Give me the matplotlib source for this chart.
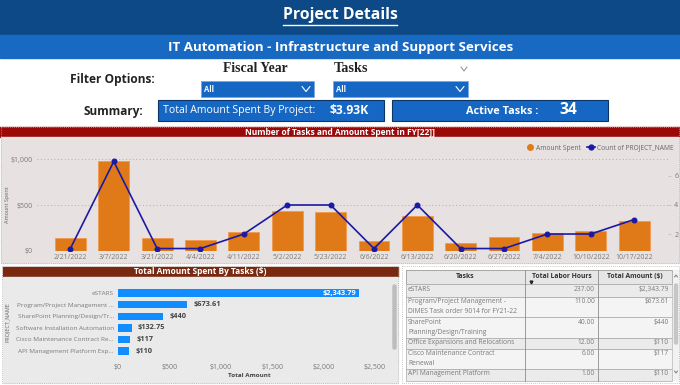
import matplotlib

matplotlib.use("Agg")

import matplotlib.pyplot as plt
from matplotlib.lines import Line2D
from matplotlib.patches import FancyBboxPatch, Rectangle

W, H = 680, 385

# combo chart: amount spent per week and number of tasks
week_labels = [
    "2/21/2022", "3/7/2022", "3/21/2022", "4/4/2022", "4/11/2022",
    "5/2/2022", "5/23/2022", "6/6/2022", "6/13/2022", "6/20/2022",
    "6/27/2022", "7/4/2022", "10/10/2022", "10/17/2022",
]
amount_spent = [140, 978, 140, 116, 210, 438, 427, 112, 384, 83, 149, 192, 217, 330]
task_counts = [1, 7, 1, 1, 2, 4, 4, 1, 4, 1, 1, 2, 2, 3]

# horizontal bar chart
task_names = [
    "eSTARS",
    "Program/Project Management ...",
    "SharePoint Planning/Design/Tr...",
    "Software Installation Automation",
    "Cisco Maintenance Contract Re...",
    "API Management Platform Exp...",
]
task_amounts = [2343.79, 673.61, 440, 132.75, 117, 110]
task_amount_labels = ["$2,343.79", "$673.61", "$440", "$132.75", "$117", "$110"]

# table
table_headers = ["Tasks", "Total Labor Hours", "Total Amount ($)"]
table_tasks = [
    "eSTARS",
    "Program/Project Management -\nDIMES Task order 9014 for FY21-22",
    "SharePoint\nPlanning/Design/Training",
    "Office Expansions and Relocations",
    "Cisco Maintenance Contract\nRenewal",
    "API Management Platform",
]
table_hours = [237.00, 110.00, 40.00, 12.00, 6.00, 1.00]
table_amounts = ["$2,343.79", "$673.61", "$440", "$110", "$117", "$110"]

total_spent_label = "$3.93K"
active_tasks = 34

DARK_BLUE = "#0D4986"
MID_BLUE = "#1769C2"
BOX_BLUE = "#1667C4"
RED = "#9A0808"
BROWN = "#78290F"
ORANGE = "#E07A18"
LINE_BLUE = "#1A1AA6"
BAR_BLUE = "#118DFF"
GREY_TXT = "#7A7A7A"

plt.rcParams["font.family"] = ["Open Sans", "DejaVu Sans"]

fig = plt.figure(figsize=(W / 100, H / 100), dpi=100)
renderer = fig.canvas.get_renderer()


def px_axes(x0, y0, x1, y1):
    return fig.add_axes([x0 / W, 1 - y1 / H, (x1 - x0) / W, (y1 - y0) / H])


def fit(t, width):
    bb = t.get_window_extent(renderer)
    t.set_fontsize(t.get_fontsize() * width / bb.width)
    return t


def chevron(ax, x, y, color="white", w=4, h=2.5):
    ax.plot([x - w, x, x + w], [y - h, y + h, y - h], color=color, lw=0.8,
            solid_capstyle="round", solid_joinstyle="round")


bg = fig.add_axes([0, 0, 1, 1])
bg.set_xlim(0, W)
bg.set_ylim(H, 0)
bg.axis("off")

# header bands
bg.add_patch(Rectangle((0, 0), W, 35, color=DARK_BLUE))
bg.add_patch(Rectangle((0, 35), W, 23, color=MID_BLUE))
title = bg.text(340, 15, "Project Details", color="white", fontsize=12,
                fontweight="bold", ha="center", va="center")
fit(title, 114)
tb = title.get_window_extent(renderer)
bg.plot([340 - tb.width / 2, 340 + tb.width / 2], [24.5, 24.5], color="white", lw=1)
sub = bg.text(341, 47, "IT Automation - Infrastructure and Support Services",
              color="white", fontsize=10, fontweight="bold", ha="center", va="center")
fit(sub, 346)

# filters
fit(bg.text(70, 80, "Filter Options:", fontsize=9, fontweight="bold",
            color="#222222", va="center"), 85)
fit(bg.text(255, 68, "Fiscal Year", family="Liberation Serif", fontsize=9,
            fontweight="bold", color="#222222", ha="center", va="center"), 64)
fit(bg.text(334, 68, "Tasks", family="Liberation Serif", fontsize=9,
            fontweight="bold", color="#222222", va="center"), 34)
chevron(bg, 464, 69, color="#999999", w=3, h=2)
for x0, x1 in [(201, 314), (333, 468)]:
    bg.add_patch(Rectangle((x0, 81), x1 - x0, 16, facecolor=BOX_BLUE,
                           edgecolor="#7FA9DB", lw=0.6))
    bg.text(x0 + 3, 90, "All", color="white", fontsize=5.5, fontweight="bold",
            va="center")
    chevron(bg, x1 - 8, 89)

# summary
fit(bg.text(83, 112, "Summary:", fontsize=9, fontweight="bold",
            color="#222222", va="center"), 60)
for x0, x1 in [(158, 384), (392, 608)]:
    bg.add_patch(Rectangle((x0, 100), x1 - x0, 21, facecolor=BOX_BLUE,
                           edgecolor="#0A3566", lw=0.8))
fit(bg.text(163, 111, "Total Amount Spent By Project:", fontsize=8,
            color="white", va="center"), 152)
fit(bg.text(330, 110, total_spent_label, fontsize=8, fontweight="bold",
            color="white", va="center"), 39)
fit(bg.text(466, 111, "Active Tasks :", fontsize=8, fontweight="bold",
            color="white", va="center"), 72)
fit(bg.text(559, 110, str(active_tasks), fontsize=9, fontweight="bold",
            color="white", va="center"), 18)

# combo chart panel
bg.add_patch(Rectangle((0, 127), W, 10, color=RED))
bg.text(340, 132, "Number of Tasks and Amount Spent in FY[22]]", color="white",
        fontsize=6, fontweight="bold", ha="center", va="center")
bg.add_patch(Rectangle((1, 137), W - 2, 126, color="#E8E1E1"))
bg.text(8, 205, "Amount Spent", rotation=90, fontsize=4, color="#666666",
        ha="center", va="center")

ax = px_axes(37, 150, 668, 251)
ax.set_facecolor("none")
x = list(range(len(week_labels)))
ax.bar(x, amount_spent, width=0.71, color=ORANGE, edgecolor="#F09A4E",
       linewidth=0.6, zorder=2)
ax.set_xlim(-0.77, 13.78)
ax.set_ylim(0, 1098)
ax.set_yticks([0, 500, 1000])
ax.set_yticklabels(["$0", "$500", "$1,000"])
ax.set_xticks(x)
ax.set_xticklabels(week_labels)
ax.tick_params(axis="both", length=0, labelsize=5.0, labelcolor=GREY_TXT)
ax.tick_params(axis="y", pad=3)
ax.tick_params(axis="x", pad=2)
ax.grid(axis="y", linestyle=(0, (1, 2.5)), color="#AFAFAF", lw=0.7, zorder=0)
for s in ax.spines.values():
    s.set_visible(False)

ax2 = ax.twinx()
ax2.plot(x, task_counts, color=LINE_BLUE, lw=1.2, marker="o", ms=3.3, zorder=3)
ax2.set_ylim(0.83, 7.79)
ax2.set_yticks([2, 4, 6])
ax2.tick_params(axis="y", length=2.5, width=0.5, color="#BBBBBB",
                labelsize=5.0, labelcolor=GREY_TXT, pad=2)
for s in ax2.spines.values():
    s.set_visible(False)

handles = [
    Line2D([], [], color=ORANGE, marker="o", ls="none", ms=4),
    Line2D([], [], color=LINE_BLUE, marker="o", lw=1.2, ms=3.5),
]
ax2.legend(handles, ["Amount Spent", "Count of PROJECT_NAME"], ncol=2,
           loc="center right", bbox_to_anchor=(676 / W, 1 - 148 / H),
           bbox_transform=fig.transFigure, frameon=False, fontsize=4.8,
           handlelength=1.3, handletextpad=0.2, columnspacing=0.9,
           labelcolor="#666666", borderaxespad=0)

# bar chart panel
bg.add_patch(Rectangle((3, 267), 395, 10, color=BROWN))
bg.text(200, 272, "Total Amount Spent By Tasks ($)", color="white", fontsize=6,
        fontweight="bold", ha="center", va="center")
bg.add_patch(Rectangle((3, 277), 395, 106, color="#EAEAEA"))
bg.text(7, 322, "PROJECT_NAME", rotation=90, fontsize=4.0, color="#666666",
        ha="center", va="center")
bg.add_patch(FancyBboxPatch((393, 285), 3, 64, boxstyle="round,pad=0,rounding_size=1.5",
                            color="#BDBDBD"))

bx = px_axes(118, 285, 380, 358)
bx.set_facecolor("none")
y = list(range(len(task_names)))
bx.barh(y, task_amounts, height=0.65, color=BAR_BLUE, zorder=2)
bx.set_ylim(5.6, -0.7)
bx.set_xlim(0, 2549)
bx.set_yticks(y)
bx.set_yticklabels(task_names)
bx.set_xticks([0, 500, 1000, 1500, 2000, 2500])
bx.set_xticklabels(["$0", "$500", "$1,000", "$1,500", "$2,000", "$2,500"])
bx.tick_params(axis="both", length=0, labelsize=5.0, labelcolor=GREY_TXT)
bx.tick_params(axis="y", pad=3, labelsize=4.6)
bx.tick_params(axis="x", pad=4)
bx.set_xlabel("Total Amount", fontsize=4.5, fontweight="bold", color="#444444",
              labelpad=2)
for s in bx.spines.values():
    s.set_visible(False)
for i, (v, lab) in enumerate(zip(task_amounts, task_amount_labels)):
    if i == 0:
        bx.text(v - 25, i, lab, color="white", fontsize=5.3, fontweight="bold",
                ha="right", va="center")
    else:
        bx.text(v + 60, i, lab, color="#444444", fontsize=5.3, fontweight="bold",
                ha="left", va="center")

# table panel
cols = [406, 525, 598, 672]
bg.add_patch(Rectangle((cols[0], 270), cols[-1] - cols[0], 14, facecolor="#E6E6E6",
                       edgecolor="#999999", lw=0.6))
for c0, c1, name in zip(cols[:-1], cols[1:], table_headers):
    bg.text((c0 + c1) / 2, 276.5, name, fontsize=4.9, fontweight="bold",
            color="#333333", ha="center", va="center")
bg.plot([531], [281.5], marker="v", ms=2, color="#222222")

row_heights = [12.5, 20.5, 20.5, 11, 20, 12]
row_colors = ["#EBEBEB", "#F4F4F4", "#F4F4F4", "#EBEBEB", "#F4F4F4", "#EBEBEB"]
top = 284
for name, hrs, amt, rh, rc in zip(table_tasks, table_hours, table_amounts,
                                  row_heights, row_colors):
    bg.add_patch(Rectangle((cols[0], top), cols[-1] - cols[0], rh, facecolor=rc,
                           edgecolor="#A8A8A8", lw=0.5))
    bg.text(cols[0] + 2, top + 1.8, name, fontsize=4.8, color="#7A7A7A",
            ha="left", va="top", linespacing=1.55)
    bg.text(cols[2] - 3, top + 1.8, f"{hrs:.2f}", fontsize=4.8, color="#7A7A7A",
            ha="right", va="top")
    bg.text(cols[3] - 3, top + 1.8, amt, fontsize=4.8, color="#7A7A7A",
            ha="right", va="top")
    top += rh
for c in cols[1:-1]:
    bg.plot([c, c], [270, top], color="#8C8C8C", lw=0.6)

# table scrollbar
bg.add_patch(Rectangle((673, 270), 6, 110, color="#F2F2F2"))
bg.add_patch(FancyBboxPatch((674.5, 284), 3, 60, boxstyle="round,pad=0,rounding_size=1.5",
                            color="#C6C6C6"))
chevron(bg, 676, 276, color="#888888", w=1.5, h=-1)
chevron(bg, 676, 372, color="#888888", w=1.5, h=1)

# dotted panel borders
for x0, y0, x1, y1 in [(1, 127, 679, 263), (2, 266, 398, 383), (402, 266, 679, 383)]:
    bg.add_patch(Rectangle((x0, y0), x1 - x0, y1 - y0, fill=False,
                           edgecolor="#B5B5B5", lw=0.6, ls=(0, (1, 1.5))))

fig.savefig("out.png", dpi=100)
